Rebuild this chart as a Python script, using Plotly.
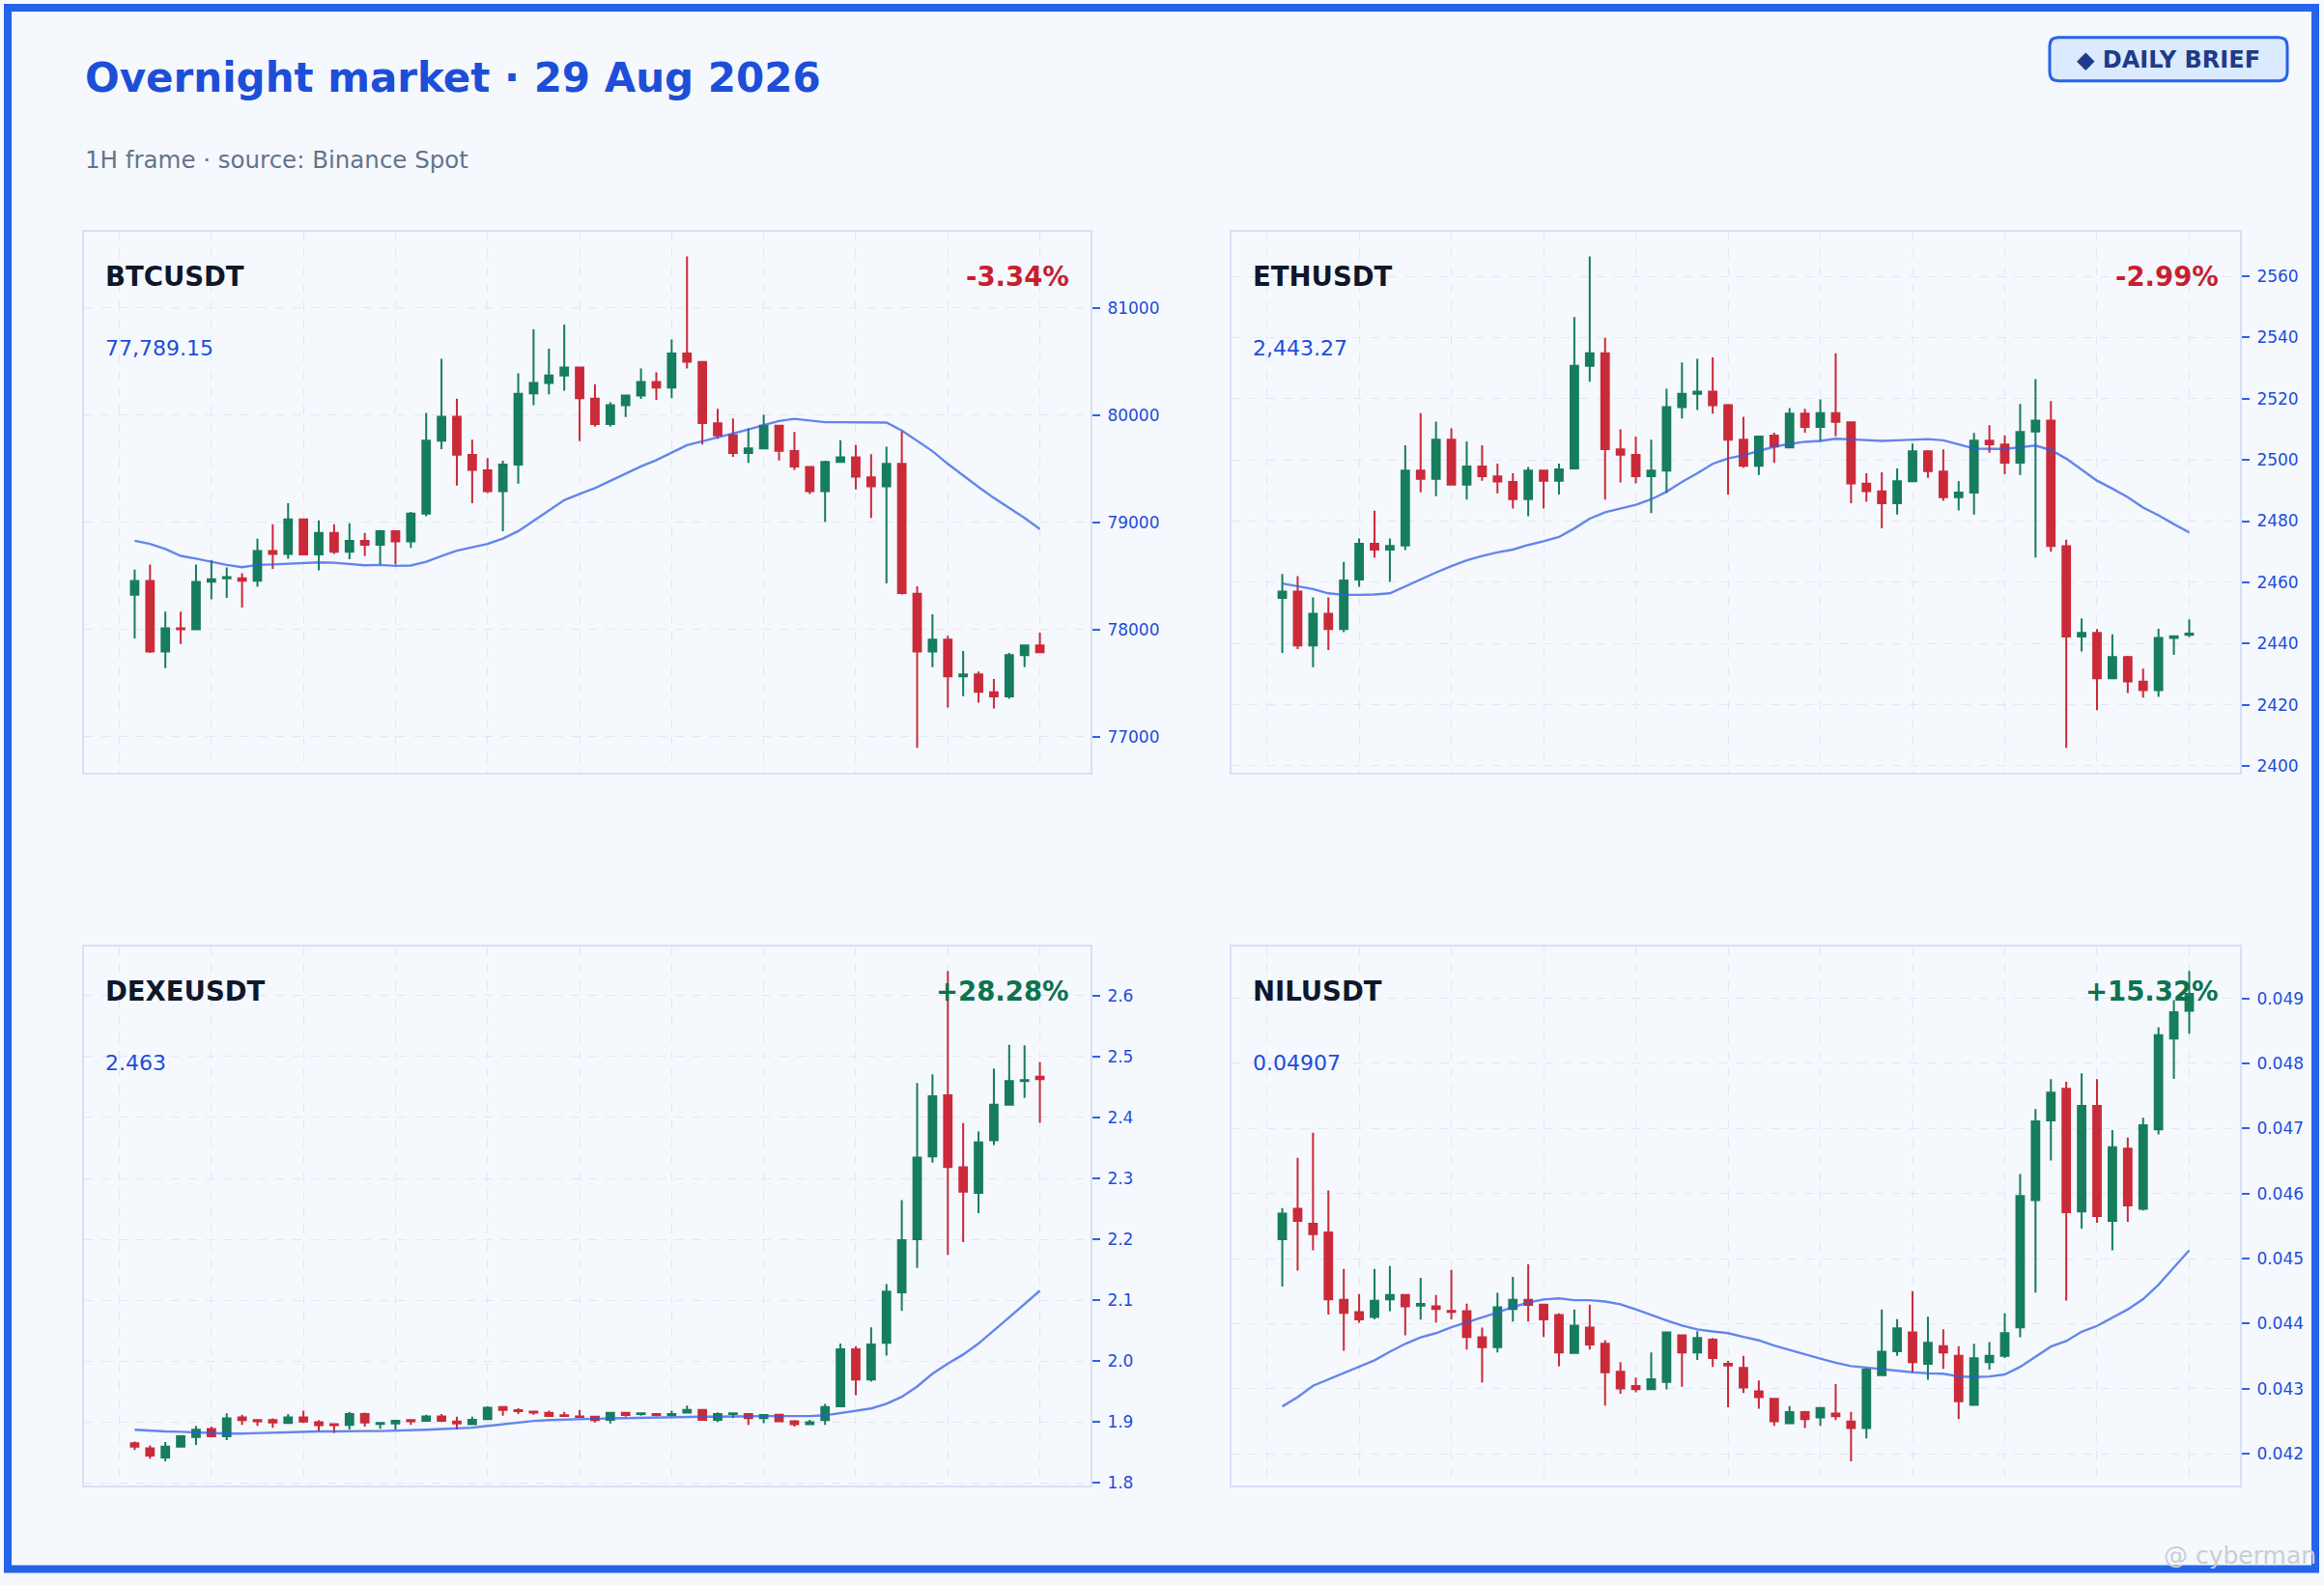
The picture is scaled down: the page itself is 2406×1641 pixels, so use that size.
import plotly.graph_objects as go

W, H = 2406, 1641

# ---- BTCUSDT 1H ----
btc_open = [78324, 78452, 77794, 78012, 78003, 78446, 78478, 78478, 78456, 78732,
            78706, 79027, 78700, 78902, 78725, 78828, 78790, 78918, 78822, 79082,
            79763, 79985, 79628, 79484, 79291, 79538, 80203, 80300, 80370, 80444,
            80155, 79917, 80094, 80184, 80309, 80258, 80576, 80496, 79924, 79814,
            79648, 79689, 79901, 79664, 79516, 79291, 79564, 79606, 79420, 79336,
            79545, 78333, 77794, 77906, 77562, 77582, 77415, 77376, 77762, 77852]
btc_high = [78558, 78607, 78166, 78166, 78607, 78648, 78578, 78526, 78848, 78982,
            79178, 79027, 79018, 78982, 78992, 78902, 78928, 78918, 79098, 80020,
            80525, 80155, 79770, 79599, 79574, 80390, 80801, 80621, 80846, 80444,
            80290, 80120, 80184, 80435, 80399, 80705, 81482, 80496, 80059, 79969,
            79876, 80004, 79901, 79843, 79516, 79574, 79766, 79721, 79635, 79705,
            79850, 78404, 78141, 77942, 77800, 77607, 77537, 77781, 77852, 77970]
btc_low = [77916, 77781, 77640, 77864, 78003, 78282, 78295, 78205, 78398, 78565,
           78661, 78700, 78552, 78706, 78655, 78687, 78607, 78607, 78761, 79057,
           79683, 79342, 79178, 79272, 78918, 79362, 80094, 80194, 80229, 79757,
           79892, 79892, 79982, 80152, 80142, 80158, 80435, 79725, 79779, 79612,
           79554, 79689, 79577, 79490, 79265, 79002, 79561, 79307, 79040, 78430,
           78327, 76897, 77649, 77273, 77379, 77318, 77264, 77354, 77649, 77781]
btc_close = [78452, 77794, 78012, 78003, 78443, 78468, 78488, 78456, 78732, 78706,
             79027, 78700, 78902, 78725, 78828, 78790, 78918, 78822, 79082, 79763,
             79985, 79631, 79490, 79291, 79538, 80200, 80300, 80370, 80444, 80158,
             79917, 80094, 80184, 80309, 80258, 80576, 80499, 79927, 79811, 79648,
             79689, 79901, 79667, 79522, 79291, 79564, 79606, 79426, 79336, 79545,
             78340, 77794, 77906, 77562, 77582, 77418, 77376, 77762, 77852, 77789.15]
btc_ma = [78828, 78799, 78751, 78687, 78661, 78629, 78603, 78581, 78603, 78607,
          78613, 78620, 78626, 78623, 78613, 78600, 78603, 78594, 78597, 78632,
          78687, 78735, 78767, 78799, 78848, 78918, 79015, 79111, 79207, 79265,
          79320, 79387, 79458, 79522, 79580, 79651, 79721, 79757, 79792, 79827,
          79866, 79908, 79946, 79966, 79950, 79934, 79934, 79931, 79931, 79931,
          79857, 79763, 79664, 79545, 79436, 79330, 79227, 79137, 79040, 78937]

# ---- ETHUSDT 1H ----
eth_open = [2454.9, 2457.0, 2439.4, 2449.7, 2444.7, 2460.9, 2472.6, 2470.7, 2472.0, 2496.5,
            2493.8, 2506.55, 2491.9, 2497.8, 2494.6, 2492.8, 2487.2, 2496.5, 2493.2, 2497.2,
            2530.7, 2534.8, 2503.4, 2501.6, 2494.7, 2496.5, 2517.2, 2521.6, 2522.3, 2517.9,
            2506.55, 2498.1, 2507.9, 2504.1, 2515.1, 2510.8, 2515.3, 2512.3, 2492.2, 2489.7,
            2485.8, 2493.05, 2502.8, 2496.2, 2487.8, 2489.3, 2506.3, 2505.0, 2499.1, 2509.3,
            2512.8, 2471.8, 2442.3, 2443.5, 2428.6, 2435.55, 2427.5, 2424.75, 2441.85, 2442.8]
eth_high = [2462.7, 2462.0, 2455.1, 2455.1, 2466.7, 2474.3, 2483.4, 2474.3, 2504.8, 2515.3,
            2512.5, 2510.3, 2506.0, 2504.8, 2498.8, 2495.6, 2497.7, 2496.5, 2498.8, 2546.7,
            2566.5, 2539.9, 2510.0, 2507.6, 2506.55, 2523.2, 2531.8, 2533.0, 2533.5, 2518.3,
            2514.1, 2507.9, 2508.9, 2516.9, 2516.7, 2519.8, 2534.8, 2512.3, 2495.6, 2495.9,
            2497.2, 2505.3, 2503.2, 2503.4, 2493.05, 2508.8, 2511.3, 2508.0, 2518.3, 2526.4,
            2519.2, 2473.9, 2448.2, 2444.7, 2443.0, 2436.0, 2431.8, 2444.8, 2442.4, 2447.9]
eth_low = [2436.9, 2438.2, 2432.3, 2437.9, 2443.7, 2458.5, 2468.1, 2460.2, 2470.5, 2489.4,
           2488.1, 2491.9, 2487.0, 2493.2, 2489.1, 2484.1, 2481.6, 2484.1, 2488.7, 2496.9,
           2525.5, 2487.0, 2492.6, 2492.3, 2482.6, 2489.2, 2513.5, 2516.3, 2515.1, 2488.7,
           2497.4, 2495.1, 2499.0, 2504.1, 2508.9, 2506.1, 2507.7, 2485.8, 2486.3, 2477.6,
           2482.1, 2493.05, 2494.1, 2486.6, 2483.5, 2482.1, 2502.3, 2495.3, 2495.1, 2468.1,
           2470.0, 2405.95, 2437.4, 2418.2, 2428.6, 2423.85, 2422.3, 2422.6, 2436.3, 2442.1]
eth_close = [2457.0, 2439.4, 2449.7, 2444.7, 2460.6, 2472.6, 2470.7, 2471.9, 2496.5, 2493.8,
             2506.55, 2491.9, 2497.8, 2494.7, 2492.9, 2487.2, 2496.5, 2493.2, 2496.9, 2530.7,
             2534.8, 2503.5, 2501.7, 2494.7, 2496.5, 2517.2, 2521.6, 2522.3, 2517.9, 2506.55,
             2498.1, 2507.6, 2504.4, 2515.1, 2510.8, 2515.3, 2512.4, 2492.3, 2489.8, 2485.8,
             2493.05, 2502.8, 2496.3, 2487.8, 2489.3, 2506.3, 2505.1, 2499.1, 2509.1, 2512.8,
             2471.9, 2442.3, 2443.5, 2428.6, 2435.55, 2427.6, 2424.75, 2441.85, 2442.4, 2443.27]
eth_ma = [2459.6, 2458.8, 2457.8, 2456.4, 2455.9, 2455.9, 2456.0, 2456.4, 2458.7, 2461.0,
          2463.2, 2465.3, 2467.2, 2468.6, 2469.8, 2470.7, 2472.2, 2473.4, 2474.8, 2477.6,
          2480.8, 2482.9, 2484.1, 2485.3, 2487.1, 2489.6, 2492.8, 2495.6, 2498.7, 2500.5,
          2501.5, 2502.8, 2504.3, 2505.2, 2505.9, 2506.2, 2506.9, 2506.7, 2506.4, 2506.2,
          2506.4, 2506.7, 2506.8, 2506.4, 2505.1, 2503.7, 2503.6, 2503.6, 2504.1, 2504.7,
          2503.2, 2500.4, 2496.8, 2493.2, 2490.6, 2487.8, 2484.4, 2481.9, 2479.0, 2476.3]

# ---- DEXEUSDT 1H ----
dexe_open = [1.8655, 1.8571, 1.8418, 1.8599, 1.8757, 1.8887, 1.8768, 1.9078, 1.9033, 1.9033,
             1.8988, 1.9078, 1.8999, 1.8966, 1.8954, 1.9134, 1.8971, 1.8977, 1.9033, 1.9021,
             1.9095, 1.9010, 1.8966, 1.9050, 1.9247, 1.9196, 1.9174, 1.9151, 1.9112, 1.9095,
             1.9089, 1.9038, 1.9151, 1.9134, 1.9134, 1.9117, 1.9157, 1.9202, 1.9038, 1.9134,
             1.9134, 1.9067, 1.9123, 1.9016, 1.8966, 1.9033, 1.9258, 2.0194, 1.9698, 2.0301,
             2.1130, 2.2004, 2.3362, 2.4365, 2.3182, 2.2764, 2.3627, 2.4208, 2.4597, 2.4670]
dexe_high = [1.8683, 1.8616, 1.8672, 1.8785, 1.8938, 1.8926, 1.9146, 1.9123, 1.9033, 1.9061,
             1.9134, 1.9190, 1.9033, 1.8977, 1.9168, 1.9157, 1.8988, 1.9033, 1.9033, 1.9123,
             1.9134, 1.9089, 1.9089, 1.9258, 1.9247, 1.9230, 1.9190, 1.9190, 1.9168, 1.9202,
             1.9101, 1.9162, 1.9162, 1.9157, 1.9134, 1.9190, 1.9270, 1.9213, 1.9162, 1.9162,
             1.9134, 1.9134, 1.9134, 1.9033, 1.9038, 1.9298, 2.0290, 2.0245, 2.0555, 2.1265,
             2.2646, 2.4568, 2.4709, 2.6406, 2.3909, 2.3768, 2.4805, 2.5194, 2.5183, 2.4912]
dexe_low = [1.8543, 1.8401, 1.8356, 1.8593, 1.8627, 1.8751, 1.8706, 1.8954, 1.8938, 1.8909,
            1.8977, 1.8988, 1.8852, 1.8824, 1.8881, 1.8926, 1.8892, 1.8881, 1.8954, 1.9010,
            1.9004, 1.8881, 1.8954, 1.9033, 1.9106, 1.9134, 1.9123, 1.9089, 1.9101, 1.9078,
            1.8993, 1.8977, 1.9089, 1.9106, 1.9095, 1.9095, 1.9146, 1.9021, 1.9004, 1.9067,
            1.8954, 1.8982, 1.9004, 1.8926, 1.8954, 1.8954, 1.9247, 1.9444, 1.9664, 2.0092,
            2.0825, 2.1530, 2.3260, 2.1744, 2.1953, 2.2432, 2.3548, 2.4208, 2.4320, 2.3914]
dexe_close = [1.8599, 1.8452, 1.8599, 1.8768, 1.8876, 1.8768, 1.9061, 1.9033, 1.9016, 1.8993,
              1.9078, 1.9010, 1.8949, 1.8949, 1.9134, 1.8993, 1.8988, 1.9021, 1.9016, 1.9095,
              1.9021, 1.8977, 1.9038, 1.9236, 1.9202, 1.9179, 1.9157, 1.9101, 1.9101, 1.9084,
              1.9033, 1.9151, 1.9117, 1.9146, 1.9117, 1.9134, 1.9202, 1.9038, 1.9134, 1.9146,
              1.9067, 1.9117, 1.9016, 1.8966, 1.8999, 1.9247, 2.0194, 1.9698, 2.0273, 2.1141,
              2.1987, 2.3340, 2.4348, 2.3187, 2.2781, 2.3593, 2.4208, 2.4597, 2.4614, 2.463]
dexe_ma = [1.8876, 1.8858, 1.8847, 1.8842, 1.8830, 1.8819, 1.8813, 1.8813, 1.8819, 1.8824,
           1.8836, 1.8847, 1.8847, 1.8847, 1.8853, 1.8853, 1.8853, 1.8858, 1.8864, 1.8876,
           1.8887, 1.8898, 1.8909, 1.8938, 1.8966, 1.8993, 1.9021, 1.9033, 1.9044, 1.9050,
           1.9055, 1.9061, 1.9067, 1.9072, 1.9078, 1.9078, 1.9084, 1.9089, 1.9089, 1.9095,
           1.9095, 1.9100, 1.9100, 1.9100, 1.9100, 1.9112, 1.9151, 1.9179, 1.9224, 1.9303,
           1.9416, 1.9585, 1.9794, 1.9963, 2.0110, 2.0290, 2.0499, 2.0719, 2.0938, 2.1158]

# ---- NILUSDT 1H ----
nil_open = [0.045296, 0.045766, 0.045534, 0.045402, 0.044366, 0.044176, 0.044102, 0.044372, 0.044440, 0.044276,
            0.044266, 0.044197, 0.044192, 0.043790, 0.043637, 0.044224, 0.044366, 0.044292, 0.044134, 0.043548,
            0.043938, 0.043690, 0.043262, 0.043040, 0.042993, 0.043104, 0.043822, 0.043558, 0.043754, 0.043384,
            0.043320, 0.042961, 0.042845, 0.042470, 0.042639, 0.042560, 0.042618, 0.042496, 0.042396, 0.043209,
            0.043574, 0.043864, 0.043384, 0.043653, 0.043505, 0.042750, 0.043410, 0.043505, 0.043944, 0.045898,
            0.047124, 0.047610, 0.045724, 0.047346, 0.045581, 0.046691, 0.045766, 0.046987, 0.048381, 0.048809]
nil_high = [0.045777, 0.046548, 0.046934, 0.046046, 0.044842, 0.044456, 0.044842, 0.044884, 0.044440, 0.044704,
            0.044440, 0.044826, 0.044308, 0.043938, 0.044472, 0.044720, 0.044910, 0.044292, 0.044160, 0.044219,
            0.044292, 0.043748, 0.043410, 0.043172, 0.043558, 0.043864, 0.043822, 0.043885, 0.043780, 0.043426,
            0.043505, 0.043125, 0.042845, 0.042734, 0.042660, 0.042702, 0.043072, 0.042644, 0.043320, 0.044219,
            0.044070, 0.044498, 0.044108, 0.043912, 0.043653, 0.043690, 0.043717, 0.044160, 0.046300, 0.047298,
            0.047758, 0.047716, 0.047848, 0.047758, 0.046976, 0.046860, 0.047166, 0.048556, 0.048973, 0.049422]
nil_low = [0.044572, 0.044815, 0.045127, 0.044139, 0.043584, 0.044012, 0.044065, 0.044192, 0.043822, 0.044060,
           0.044018, 0.044065, 0.043600, 0.043093, 0.043558, 0.044033, 0.044033, 0.043796, 0.043347, 0.043548,
           0.043600, 0.042739, 0.042924, 0.042945, 0.042993, 0.042988, 0.043030, 0.043442, 0.043336, 0.042713,
           0.042935, 0.042692, 0.042427, 0.042470, 0.042396, 0.042427, 0.042517, 0.041883, 0.042237, 0.043209,
           0.043505, 0.043252, 0.043136, 0.043304, 0.042533, 0.042750, 0.043294, 0.043473, 0.043790, 0.044477,
           0.046506, 0.044356, 0.045460, 0.045550, 0.045127, 0.045566, 0.045740, 0.046907, 0.047763, 0.048455]
nil_close = [0.045692, 0.045581, 0.045375, 0.044372, 0.044166, 0.044065, 0.044351, 0.044440, 0.044266, 0.044303,
             0.044224, 0.044181, 0.043796, 0.043637, 0.044250, 0.044366, 0.044287, 0.044065, 0.043558, 0.043970,
             0.043679, 0.043252, 0.043003, 0.042993, 0.043146, 0.043864, 0.043558, 0.043780, 0.043473, 0.043357,
             0.043019, 0.042871, 0.042501, 0.042639, 0.042533, 0.042702, 0.042576, 0.042396, 0.043294, 0.043569,
             0.043928, 0.043410, 0.043706, 0.043558, 0.042808, 0.043468, 0.043505, 0.043854, 0.045962, 0.047108,
             0.047552, 0.045714, 0.047346, 0.045655, 0.046712, 0.045819, 0.047050, 0.048434, 0.048788, 0.04907]
nil_ma = [0.042728, 0.042871, 0.043046, 0.043146, 0.043241, 0.043336, 0.043436, 0.043569, 0.043690, 0.043790,
          0.043854, 0.043944, 0.044018, 0.044086, 0.044171, 0.044255, 0.044324, 0.044372, 0.044388, 0.044361,
          0.044361, 0.044340, 0.044298, 0.044219, 0.044129, 0.044050, 0.043970, 0.043912, 0.043880, 0.043854,
          0.043796, 0.043743, 0.043664, 0.043595, 0.043521, 0.043463, 0.043400, 0.043347, 0.043326, 0.043299,
          0.043278, 0.043252, 0.043236, 0.043230, 0.043188, 0.043178, 0.043188, 0.043220, 0.043336, 0.043489,
          0.043648, 0.043732, 0.043875, 0.043965, 0.044097, 0.044219, 0.044377, 0.044599, 0.044863, 0.045127]

symbols = ["BTCUSDT", "ETHUSDT", "DEXEUSDT", "NILUSDT"]
last_prices = ["77,789.15", "2,443.27", "2.463", "0.04907"]
changes = ["-3.34%", "-2.99%", "+28.28%", "+15.32%"]

GREEN = "#0b7755"
RED = "#c9202f"
BLUE = "#1d4ed8"
BG = "#f5f8fd"
GRID = "#e0e8f6"
FRAME = "#d6e1f4"
FONT = "DejaVu Sans"


def px(x):
    return x / W


def py(y):
    return 1 - y / H


def rounded_rect(x0, y0, x1, y1, r):
    return (f"M {px(x0 + r)},{py(y0)} L {px(x1 - r)},{py(y0)} "
            f"Q {px(x1)},{py(y0)} {px(x1)},{py(y0 + r)} L {px(x1)},{py(y1 - r)} "
            f"Q {px(x1)},{py(y1)} {px(x1 - r)},{py(y1)} L {px(x0 + r)},{py(y1)} "
            f"Q {px(x0)},{py(y1)} {px(x0)},{py(y1 - r)} L {px(x0)},{py(y0 + r)} "
            f"Q {px(x0)},{py(y0)} {px(x0 + r)},{py(y0)} Z")


series = [
    (btc_open, btc_high, btc_low, btc_close, btc_ma),
    (eth_open, eth_high, eth_low, eth_close, eth_ma),
    (dexe_open, dexe_high, dexe_low, dexe_close, dexe_ma),
    (nil_open, nil_high, nil_low, nil_close, nil_ma),
]
# panel boxes in pixels (left, top, right, bottom)
boxes = [(87, 241, 1129, 803), (1275, 241, 2319, 803),
         (87, 984, 1129, 1545), (1275, 984, 2319, 1545)]
ticks = [(1000, "d"), (20, "d"), (0.1, ".1f"), (0.001, ".3f")]

fig = go.Figure()
annotations = []
layout_axes = {}

for i, (o, h, l, c, ma) in enumerate(series):
    n = "" if i == 0 else str(i + 1)
    xs = list(range(len(o)))
    fig.add_trace(go.Candlestick(
        x=xs, open=o, high=h, low=l, close=c,
        xaxis="x" + n, yaxis="y" + n,
        increasing=dict(line=dict(color=GREEN, width=2), fillcolor=GREEN),
        decreasing=dict(line=dict(color=RED, width=2), fillcolor=RED),
        opacity=0.95, whiskerwidth=0, showlegend=False, name=symbols[i]))
    fig.add_trace(go.Scatter(
        x=xs, y=ma, mode="lines", xaxis="x" + n, yaxis="y" + n,
        line=dict(color="#2d5be3", width=2.4), opacity=0.72,
        showlegend=False, name="MA"))

    x0, y0, x1, y1 = boxes[i]
    lo, hi = min(l), max(h)
    pad = (hi - lo) * 0.05
    layout_axes["xaxis" + n] = dict(
        domain=[px(x0), px(x1)], anchor="y" + n, range=[-3.3, 62.3],
        rangeslider=dict(visible=False), showticklabels=False,
        showgrid=True, gridcolor=GRID, griddash="dash", gridwidth=1,
        tick0=-1, dtick=6, zeroline=False,
        showline=True, linecolor=FRAME, linewidth=2, mirror=True, ticks="")
    layout_axes["yaxis" + n] = dict(
        domain=[py(y1), py(y0)], anchor="x" + n, side="right",
        range=[lo - pad, hi + pad], dtick=ticks[i][0], tickformat=ticks[i][1],
        showgrid=True, gridcolor=GRID, griddash="dash", gridwidth=1, zeroline=False,
        showline=True, linecolor=FRAME, linewidth=2, mirror=True,
        ticks="outside", ticklen=8, tickwidth=2, tickcolor="#2f62e6",
        ticklabelstandoff=4,
        tickfont=dict(size=17, color=BLUE, family=FONT))

    up = changes[i].startswith("+")
    annotations += [
        dict(text="<b>" + symbols[i] + "</b>", x=px(x0 + 20), y=py(y0 + 46),
             xanchor="left", yanchor="middle",
             font=dict(size=27.5, color="#0f172a")),
        dict(text=last_prices[i], x=px(x0 + 20), y=py(y0 + 121),
             xanchor="left", yanchor="middle",
             font=dict(size=22, color=BLUE)),
        dict(text="<b>" + changes[i] + "</b>", x=px(x1 - 20), y=py(y0 + 46),
             xanchor="right", yanchor="middle",
             font=dict(size=27.5, color="#0b7350" if up else "#c81f30")),
    ]

annotations += [
    dict(text="<b>Overnight market · 29 Aug 2026</b>", x=px(86), y=py(81),
         xanchor="left", yanchor="middle", font=dict(size=42, color=BLUE)),
    dict(text="1H frame · source: Binance Spot", x=px(86), y=py(166),
         xanchor="left", yanchor="middle", font=dict(size=24.5, color="#64748b")),
    dict(text="<b>◆ DAILY BRIEF</b>", x=px(2245), y=py(62),
         xanchor="center", yanchor="middle", font=dict(size=24, color="#1e3a8a")),
    dict(text="@ cyberman", x=px(2400), y=py(1617), xanchor="right", yanchor="middle",
         font=dict(size=25, color="#c9cdd5")),
]
for a in annotations:
    a["xref"] = "paper"
    a["yref"] = "paper"
    a["showarrow"] = False

shapes = [
    dict(type="rect", xref="paper", yref="paper",
         x0=px(8), x1=px(2397), y0=py(1631.5), y1=py(8),
         line=dict(color="#2563eb", width=8), fillcolor="rgba(0,0,0,0)"),
    dict(type="path", xref="paper", yref="paper",
         path=rounded_rect(2122, 39, 2368, 84, 9),
         line=dict(color="#2563eb", width=3), fillcolor="#dbeafe"),
]

fig.update_layout(
    width=W, height=H,
    margin=dict(l=0, r=0, t=0, b=0),
    paper_bgcolor=BG, plot_bgcolor=BG,
    font=dict(family=FONT),
    annotations=annotations, shapes=shapes,
    **layout_axes)

fig.write_html("out.html", config={"displayModeBar": False},
               post_script="document.body.style.margin='0';document.body.style.background='" + BG + "';")
